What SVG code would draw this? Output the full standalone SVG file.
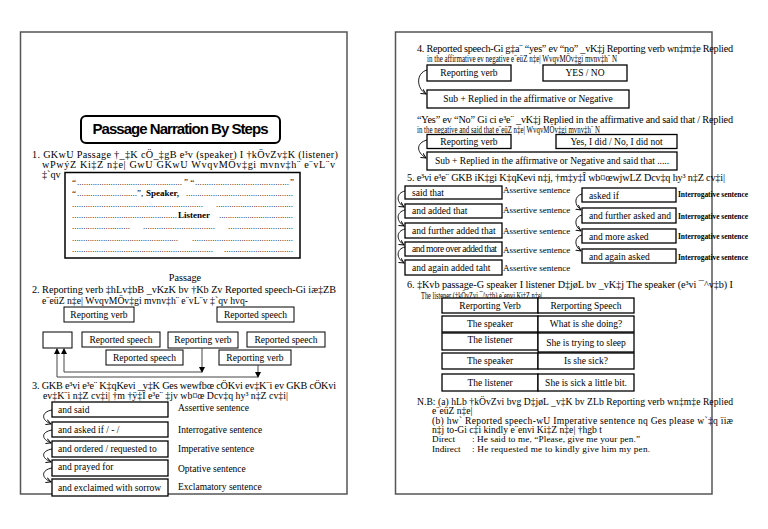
<svg xmlns="http://www.w3.org/2000/svg" width="768" height="529" viewBox="0 0 768 529">
<style>
.pg{fill:none;stroke:#555;stroke-width:1.5}
.bx{fill:#fff;stroke:#000;stroke-width:1.3}
.tb{fill:#fff;stroke:#000;stroke-width:1}
.t{font-family:'Liberation Serif','Times New Roman',serif;font-size:10.2px;fill:#000}
.b{font-family:'Liberation Serif','Times New Roman',serif;font-size:9.5px;fill:#000}
.s{font-family:'Liberation Serif','Times New Roman',serif;font-size:7.5px;fill:#000}
.d{font-family:'Liberation Serif','Times New Roman',serif;font-size:9px;fill:#000}
.n{font-family:'Liberation Serif','Times New Roman',serif;font-size:9.6px;fill:#000}
.c{text-anchor:middle}
.bd{font-weight:bold}
.cn{fill:none;stroke:#000;stroke-width:0.9}
.cg{fill:none;stroke:#444;stroke-width:1}
</style>
<defs>
<marker id="v" markerWidth="6" markerHeight="6" refX="5" refY="3" orient="auto" markerUnits="userSpaceOnUse"><path d="M0,0.5 L5,3 L0,5.5" fill="none" stroke="#000" stroke-width="0.9"/></marker>
<marker id="f" markerWidth="6" markerHeight="6" refX="5" refY="3" orient="auto" markerUnits="userSpaceOnUse"><path d="M0,0 L6,3 L0,6 z" fill="#000"/></marker>
</defs>
<rect width="768" height="529" fill="#fff"/>

<!-- pages -->
<rect id="page1" class="pg" x="20.5" y="32" width="326.5" height="462"/>
<rect id="page2" class="pg" x="395.5" y="32" width="316.5" height="462"/>

<!-- LEFT PAGE -->
<g id="title">
<rect x="81" y="116" width="199" height="27" rx="5" fill="#fff" stroke="#000" stroke-width="2"/>
<text x="180.5" y="133.5" class="c" font-family="'Liberation Sans',Arial,sans-serif" font-size="15" font-weight="bold" textLength="176">Passage Narration By Steps</text>
</g>
<g id="step1-text">
<text class="t" x="32" y="157.5" textLength="306">1. GKwU Passage †_‡K cÖ_‡gB e³v (speaker) I †kÖvZv‡K (listener)</text>
<text class="t" x="42" y="167.5" textLength="293">wPwýZ Ki‡Z n‡e| GwU GKwU WvqvMÖv‡gi mvnv‡h¨ e¨vL¨v</text>
<text class="t" x="42" y="178">‡`qv</text>
</g>
<g id="passage-box">
<rect x="65" y="172.5" width="235" height="85.5" fill="#fff" stroke="#000" stroke-width="1.5"/>
<text class="d" x="72" y="185">“</text>
<text class="d" x="77" y="185" textLength="105">...............................................</text>
<text class="d" x="184" y="185">” “</text>
<text class="d" x="195" y="185" textLength="94">.........................................</text>
<text class="d" x="290" y="185">”</text>
<text class="d" x="72" y="196">“</text>
<text class="d" x="77" y="196" textLength="60">...........................</text>
<text class="d" x="137" y="196">”,</text>
<text class="d bd" x="146" y="196">Speaker,</text>
<text class="d" x="186" y="196" textLength="107">................................................</text>
<text class="d" x="72" y="206.5" textLength="131">..........................................................</text>
<text class="d" x="216" y="206.5" textLength="77">...................................</text>
<text class="d" x="72" y="217.5" textLength="105">...............................................</text>
<text class="d bd" x="178" y="217.5">Listener</text>
<text class="d" x="219" y="217.5" textLength="74">..................................</text>
<text class="d" x="72" y="229" textLength="58">..........................</text>
<text class="d" x="143" y="229" textLength="72">................................</text>
<text class="d" x="228" y="229" textLength="65">.............................</text>
<text class="d" x="72" y="240.5" textLength="106">................................................</text>
<text class="d" x="192" y="240.5" textLength="101">.............................................</text>
<text class="d" x="72" y="251.5" textLength="141">...............................................................</text>
<text class="d" x="224" y="251.5" textLength="69">...............................</text>
</g>
<text class="t c" x="185" y="280.5" font-size="11.5">Passage</text>
<g id="step2-text">
<text class="t" x="32" y="292.5" textLength="304">2. Reporting verb ‡hLv‡bB _vKzK bv †Kb Zv Reported speech-Gi iæ‡ZB</text>
<text class="t" x="42" y="303.5" textLength="206" lengthAdjust="spacingAndGlyphs">e¨eüZ n‡e| WvqvMÖv‡gi mvnv‡h¨ e¨vL¨v ‡`qv hvq-</text>
</g>
<g id="s2-rv1"><rect class="tb" x="64" y="307" width="70" height="15"/><text class="b c" x="99" y="317.5">Reporting verb</text></g>
<g id="s2-rs1"><rect class="tb" x="217" y="307" width="77" height="15"/><text class="b c" x="255.5" y="317.5">Reported speech</text></g>
<g id="s2-empty"><rect class="tb" x="43" y="332" width="29" height="16"/></g>
<g id="s2-rs2"><rect class="tb" x="82" y="332" width="78" height="15"/><text class="b c" x="121" y="342.5">Reported speech</text></g>
<g id="s2-rv2"><rect class="tb" x="168" y="332" width="70" height="16"/><text class="b c" x="203" y="342.5">Reporting verb</text></g>
<g id="s2-rs3"><rect class="tb" x="247" y="332" width="78" height="15"/><text class="b c" x="286" y="342.5">Reported speech</text></g>
<g id="s2-rs4"><rect class="tb" x="106" y="350" width="77" height="15"/><text class="b c" x="144.5" y="360.5">Reported speech</text></g>
<g id="s2-rv3"><rect class="tb" x="219" y="350" width="72" height="15"/><text class="b c" x="255" y="360.5">Reporting verb</text></g>

<g id="step3-text">
<text class="t" x="32" y="388.5" textLength="304">3. GKB e³vi e³e¨ K‡qKevi _v‡K Ges wewfbœ cÖKvi ev‡K¨i ev GKB cÖKvi</text>
<text class="t" x="43" y="398.5" textLength="245" lengthAdjust="spacingAndGlyphs">ev‡K¨i n‡Z cv‡i| †m †ÿ‡Î e³e¨ ‡jv wb¤œ Dcv‡q hy³ n‡Z cv‡i|</text>
</g>
<g id="s3-b1"><rect class="bx" x="52" y="402" width="116" height="15"/><text class="b" x="58" y="412.5">and said</text></g>
<g id="s3-b2"><rect class="bx" x="52" y="422" width="116" height="15"/><text class="b" x="58" y="432.5">and asked if / - /</text></g>
<g id="s3-b3"><rect class="bx" x="52" y="441" width="116" height="16"/><text class="b" x="58" y="451.5">and ordered / requested to</text></g>
<g id="s3-b4"><rect class="bx" x="52" y="460" width="116" height="16"/><text class="b" x="58" y="470">and prayed for</text></g>
<g id="s3-b5"><rect class="bx" x="52" y="479" width="116" height="17"/><text class="b" x="58" y="490.5">and exclaimed with sorrow</text></g>
<g id="s3-labels">
<text class="b" x="178" y="411">Assertive sentence</text>
<text class="b" x="178" y="433">Interrogative sentence</text>
<text class="b" x="178" y="452">Imperative sentence</text>
<text class="b" x="178" y="472">Optative sentence</text>
<text class="b" x="178" y="490">Exclamatory sentence</text>
</g>

<!-- RIGHT PAGE -->
<g id="step4-text">
<text class="t" x="417" y="51.5" textLength="316">4. Reported speech-Gi g‡a¨ “yes” ev “no” _vK‡j Reporting verb wn‡m‡e Replied</text>
<text class="t" x="427" y="62" textLength="190" lengthAdjust="spacingAndGlyphs">in the affirmative ev negative e¨eüZ n‡e| WvqvMÖv‡gi mvnv‡h¨ N</text>
</g>
<g id="s4-rv"><rect class="bx" x="427" y="65" width="84" height="16"/><text class="b c" x="469" y="76">Reporting verb</text></g>
<g id="s4-yn"><rect class="bx" x="543" y="65" width="84" height="16"/><text class="b c" x="585" y="76">YES / NO</text></g>
<g id="s4-sub"><rect class="bx" x="427" y="90" width="202" height="18"/><text class="b c" x="528" y="102">Sub + Replied in the affirmative or Negative</text></g>
<g id="step4b-text">
<text class="t" x="417" y="123" textLength="316">“Yes” ev “No” Gi ci e³e¨ _vK‡j Replied in the affirmative and said that / Replied</text>
<text class="t" x="417" y="133" textLength="183" lengthAdjust="spacingAndGlyphs">in the negative and said that e¨eüZ n‡e| WvqvMÖv‡gi mvnv‡h¨ N</text>
</g>
<g id="s4b-rv"><rect class="bx" x="427" y="134.5" width="84" height="14"/><text class="b c" x="469" y="144.5">Reporting verb</text></g>
<g id="s4b-yn"><rect class="bx" x="556" y="134.5" width="121" height="14"/><text class="b c" x="616.5" y="144.5">Yes, I did / No, I did not</text></g>
<g id="s4b-sub"><rect class="bx" x="427" y="152" width="250" height="18"/><text class="b c" x="552" y="164">Sub + Replied in the affirmative or Negative and said that .....</text></g>

<text class="t" x="407" y="180.5" textLength="318" fill="#333">5. e³vi e³e¨ GKB iK‡gi K‡qKevi n‡j, †m‡y‡Î wb¤œwjwLZ Dcv‡q hy³ n‡Z cv‡i|</text>
<g id="s5-l1"><rect class="bx" x="405" y="186" width="97" height="13"/><text class="b" x="412" y="195.5">said that</text></g>
<g id="s5-l2"><rect class="bx" x="405" y="204" width="97" height="14"/><text class="b" x="412" y="214">and added that</text></g>
<g id="s5-l3"><rect class="bx" x="405" y="223" width="97" height="15"/><text class="b" x="412" y="233.5">and further added that</text></g>
<g id="s5-l4"><rect class="bx" x="405" y="242" width="97" height="14"/><text class="b" x="412" y="252" font-size="8" textLength="85">and more over added that</text></g>
<g id="s5-l5"><rect class="bx" x="405" y="260" width="97" height="15"/><text class="b" x="412" y="270.5">and again added taht</text></g>
<g id="s5-llabels">
<text class="d" x="503" y="193">Assertive sentence</text>
<text class="d" x="503" y="213">Assertive sentence</text>
<text class="d" x="503" y="234">Assertive sentence</text>
<text class="d" x="503" y="253">Assertive sentence</text>
<text class="d" x="503" y="271">Assertive sentence</text>
</g>
<g id="s5-r1"><rect class="bx" x="582" y="188" width="94" height="14"/><text class="b" x="589" y="198.5">asked if</text></g>
<g id="s5-r2"><rect class="bx" x="582" y="208" width="94" height="15"/><text class="b" x="589" y="218.5">and further asked and</text></g>
<g id="s5-r3"><rect class="bx" x="582" y="229" width="94" height="14"/><text class="b" x="589" y="239.5">and more asked</text></g>
<g id="s5-r4"><rect class="bx" x="582" y="249" width="94" height="14"/><text class="b" x="589" y="259.5">and again asked</text></g>
<g id="s5-rlabels">
<text class="s bd" x="678" y="196.5" textLength="70">Interrogative sentence</text>
<text class="s bd" x="678" y="218.5" textLength="70">Interrogative sentence</text>
<text class="s bd" x="678" y="238.5" textLength="70">Interrogative sentence</text>
<text class="s bd" x="678" y="259.5" textLength="70">Interrogative sentence</text>
</g>

<g id="step6-text">
<text class="t" x="407" y="287.5" textLength="326">6. ‡Kvb passage-G speaker I listener D‡jøL bv _vK‡j The speaker (e³vi ¯^v‡b) I</text>
<text class="t" x="421" y="298.5" textLength="121" lengthAdjust="spacingAndGlyphs">The listener (‡kÖvZvi ¯^v‡b) e¨envi Ki‡Z n‡e|</text>
</g>
<g id="table">
<rect class="bx" x="442" y="298" width="96" height="15"/><text class="b c" x="490" y="308.5">Rerporting Verb</text>
<rect class="bx" x="538" y="298" width="96" height="15"/><text class="b c" x="586" y="308.5">Rerporting Speech</text>
<rect class="bx" x="442" y="316" width="96" height="16"/><text class="b c" x="490" y="327">The speaker</text>
<rect class="bx" x="538" y="316" width="96" height="16"/><text class="b c" x="586" y="327">What is she doing?</text>
<rect class="bx" x="442" y="333" width="96" height="17"/><text class="b c" x="490" y="343">The listener</text>
<rect class="bx" x="538" y="333" width="96" height="19"/><text class="b c" x="586" y="345.5">She is trying to sleep</text>
<rect class="bx" x="442" y="353" width="96" height="16"/><text class="b c" x="490" y="363.5">The speaker</text>
<rect class="bx" x="538" y="353" width="96" height="16"/><text class="b c" x="586" y="363.5">Is she sick?</text>
<rect class="bx" x="442" y="374" width="96" height="17"/><text class="b c" x="490" y="385.5">The listener</text>
<rect class="bx" x="538" y="374" width="96" height="17"/><text class="b c" x="586" y="385.5">She is sick a little bit.</text>
</g>
<g id="nb-text">
<text class="n" x="417" y="404.5" textLength="316">N.B: (a) hLb †kÖvZvi bvg D‡jøL _v‡K bv ZLb Reporting verb wn‡m‡e Replied</text>
<text class="n" x="432" y="414">e¨eüZ n‡e|</text>
<text class="n" x="432" y="423.5" textLength="301">(b) hw` Reported speech-wU Imperative sentence nq Ges please w`‡q ïiæ</text>
<text class="n" x="432" y="433" textLength="170" lengthAdjust="spacingAndGlyphs">n‡j to-Gi c‡i kindly e¨envi Ki‡Z n‡e| †hgb t</text>
<text class="n" x="432" y="442" style="font-size:9.2px">Direct</text>
<text class="n" x="472" y="442" textLength="168" style="font-size:9.2px">: He said to me, “Please, give me your pen.”</text>
<text class="n" x="432" y="452" style="font-size:9.2px">Indirect</text>
<text class="n" x="472" y="452" textLength="178" style="font-size:9.2px">: He requested me to kindly give him my pen.</text>
</g>

<!-- CONNECTORS -->
<g id="connectors">
<path class="cg" d="M202,348 V372" marker-end="url(#f)"/>
<path class="cg" d="M202,372 H64 V349" marker-end="url(#f)"/>
<path class="cg" d="M258,365 V377" marker-end="url(#f)"/>
<path class="cg" d="M258,377 H57 V349" marker-end="url(#f)"/>

<path class="cn" d="M52,410 C41,412 41,420 51,424" marker-end="url(#v)"/>
<path class="cn" d="M52,430 C41,432 41,439 51,443" marker-end="url(#v)"/>
<path class="cn" d="M52,449 C41,451 41,458 51,462" marker-end="url(#v)"/>
<path class="cn" d="M52,468 C41,470 41,478 51,482" marker-end="url(#v)"/>

<path class="cn" d="M427,70 C416,73 416,88 426,94" marker-end="url(#v)"/>
<path class="cn" d="M427,140 C416,143 416,152 426,158" marker-end="url(#v)"/>

<path class="cn" d="M405,191 C396,193 396,202 404,207" marker-end="url(#v)"/>
<path class="cn" d="M405,210 C396,212 396,221 404,226" marker-end="url(#v)"/>
<path class="cn" d="M405,229 C396,231 396,240 404,245" marker-end="url(#v)"/>
<path class="cn" d="M405,247 C396,249 396,258 404,263" marker-end="url(#v)"/>

<path class="cn" d="M582,194 C574,196 574,205 581,210" marker-end="url(#v)"/>
<path class="cn" d="M582,215 C574,217 574,226 581,231" marker-end="url(#v)"/>
<path class="cn" d="M582,235 C574,237 574,246 581,251" marker-end="url(#v)"/>
</g>
</svg>
